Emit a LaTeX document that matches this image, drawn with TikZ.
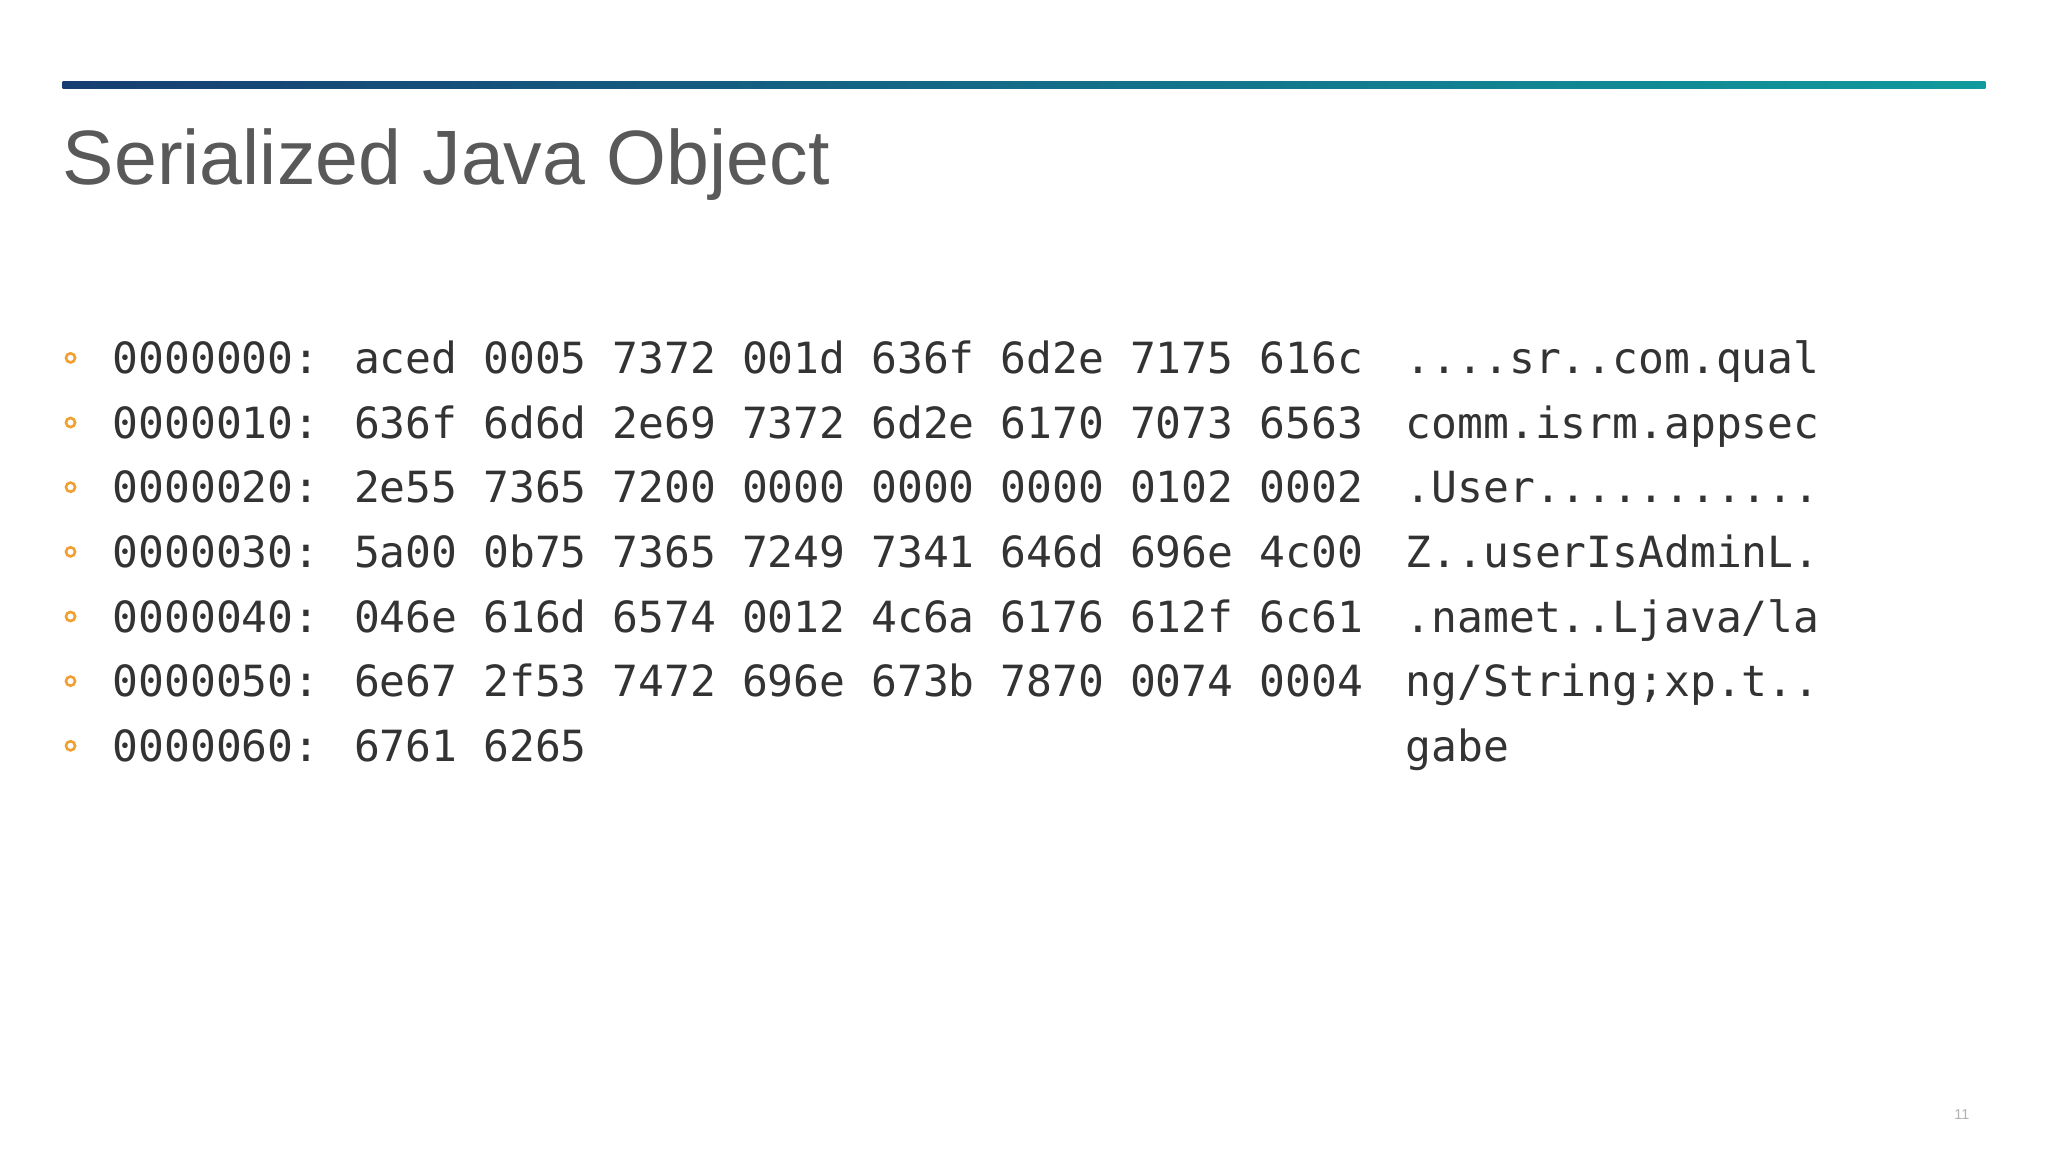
\documentclass[tikz,border=0pt]{standalone}
\usepackage{fontspec}
\setmainfont{Liberation Sans}
\newfontfamily\hexfont{DejaVu Sans Mono}
\definecolor{barA}{HTML}{173E72}
\definecolor{barB}{HTML}{109A9C}
\definecolor{titlec}{HTML}{595959}
\definecolor{txtc}{HTML}{333333}
\definecolor{bulc}{HTML}{F0A030}
\tikzset{
  hexline/.style={anchor=base west, inner sep=0pt, font=\hexfont\fontsize{32.9}{40}\selectfont, text=txtc},
  bul/.style={circle, draw=bulc, line width=2pt, minimum size=7pt, inner sep=0pt}
}
\begin{document}
\begin{tikzpicture}[x=1pt,y=-1pt]
\useasboundingbox (0,0) rectangle (1568,882);
\fill[white] (0,0) rectangle (1568,882);
\shade[left color=barA, right color=barB] (48,62.5) rectangle (1520,67.5);
\node[anchor=base west, inner sep=0pt, font=\fontsize{59}{66}\selectfont, text=titlec] (title) at (48,141) {Serialized Java Object};
\foreach \i/\h/\a in {0/{0000000: aced 0005 7372 001d 636f 6d2e 7175 616c}/{....sr..com.qual},
 1/{0000010: 636f 6d6d 2e69 7372 6d2e 6170 7073 6563}/{comm.isrm.appsec},
 2/{0000020: 2e55 7365 7200 0000 0000 0000 0102 0002}/{.User...........},
 3/{0000030: 5a00 0b75 7365 7249 7341 646d 696e 4c00}/{Z..userIsAdminL.},
 4/{0000040: 046e 616d 6574 0012 4c6a 6176 612f 6c61}/{.namet..Ljava/la},
 5/{0000050: 6e67 2f53 7472 696e 673b 7870 0074 0004}/{ng/String;xp.t..},
 6/{0000060: 6761 6265}/{gabe}}{
  \node[bul] (b\i) at (54,274+49.5*\i) {};
  \node[hexline] (h\i) at (86,286+49.5*\i) {\h};
  \node[hexline] (a\i) at (1076,286+49.5*\i) {\a};
}
\node[anchor=base east, inner sep=0pt, font=\fontsize{11}{12}\selectfont, text=black!30] (pg) at (1508,857) {11};
\end{tikzpicture}
\end{document}
